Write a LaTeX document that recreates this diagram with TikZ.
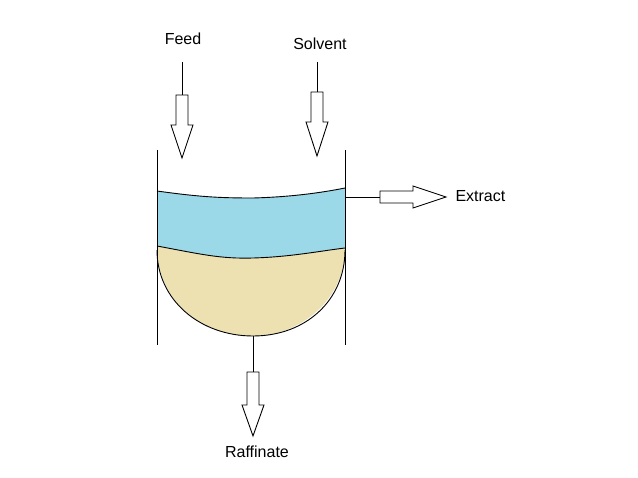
\documentclass[tikz,border=0pt]{standalone}
\usepackage{fontspec}
\setmainfont{Liberation Sans}
\begin{document}
\begin{tikzpicture}[x=1pt,y=-1pt,
  ln/.style={line width=0.9pt,black},
  lbl/.style={font=\fontsize{16}{18}\selectfont}]
\useasboundingbox (0,0) rectangle (638,478);
\definecolor{blue1}{RGB}{155,216,232}
\definecolor{tan1}{RGB}{237,225,177}
% layers
\fill[tan1] (157,246) .. controls (200,254) and (220,259) .. (253,258) .. controls (290,257) and (320,251) .. (345,248)
  .. controls (345,300) and (300,336) .. (253,336) .. controls (200,336) and (157,300) .. (157,246) -- cycle;
\fill[blue1] (157,191) .. controls (200,197) and (220,198) .. (253,198) .. controls (290,197) and (320,193) .. (345,188)
  -- (345,248) .. controls (320,251) and (290,257) .. (253,258) .. controls (220,259) and (200,254) .. (157,246) -- cycle;
\draw[ln] (157,191) .. controls (200,197) and (220,198) .. (253,198) .. controls (290,197) and (320,193) .. (345,188);
\draw[ln] (157,246) .. controls (200,254) and (220,259) .. (253,258) .. controls (290,257) and (320,251) .. (345,248);
\draw[ln] (157,250) .. controls (157,300) and (200,336) .. (253,336) .. controls (306,336) and (345,300) .. (345,250);
% walls
\coordinate (lt) at (157,150); \coordinate (lb) at (157,345);
\coordinate (rt) at (345,150); \coordinate (rb) at (345,345);
\draw[ln] (lt) -- (lb); \draw[ln] (rt) -- (rb);
% feed
\node[lbl] (feed) at (183,39) {Feed};
\draw[ln] (182,62) -- (182,95);
\draw[ln] (176,95) -- (188,95) -- (188,125) -- (193,125) -- (182,158) -- (171,125) -- (176,125) -- cycle;
% solvent
\node[lbl] (solv) at (320,44) {Solvent};
\draw[ln] (317,62) -- (317,92);
\draw[ln] (311,92) -- (323,92) -- (323,122) -- (328,122) -- (317,156) -- (306,122) -- (311,122) -- cycle;
% extract
\node[lbl,anchor=west] (ext) at (452,196) {Extract};
\draw[ln] (345,197) -- (380,197);
\draw[ln] (380,191) -- (413,191) -- (413,186) -- (446,197) -- (413,208) -- (413,203) -- (380,203) -- cycle;
% raffinate
\node[lbl] (raf) at (257,452) {Raffinate};
\draw[ln] (253,336) -- (253,372);
\draw[ln] (247,372) -- (259,372) -- (259,405) -- (264,405) -- (253,436) -- (242,405) -- (247,405) -- cycle;
\end{tikzpicture}
\end{document}
